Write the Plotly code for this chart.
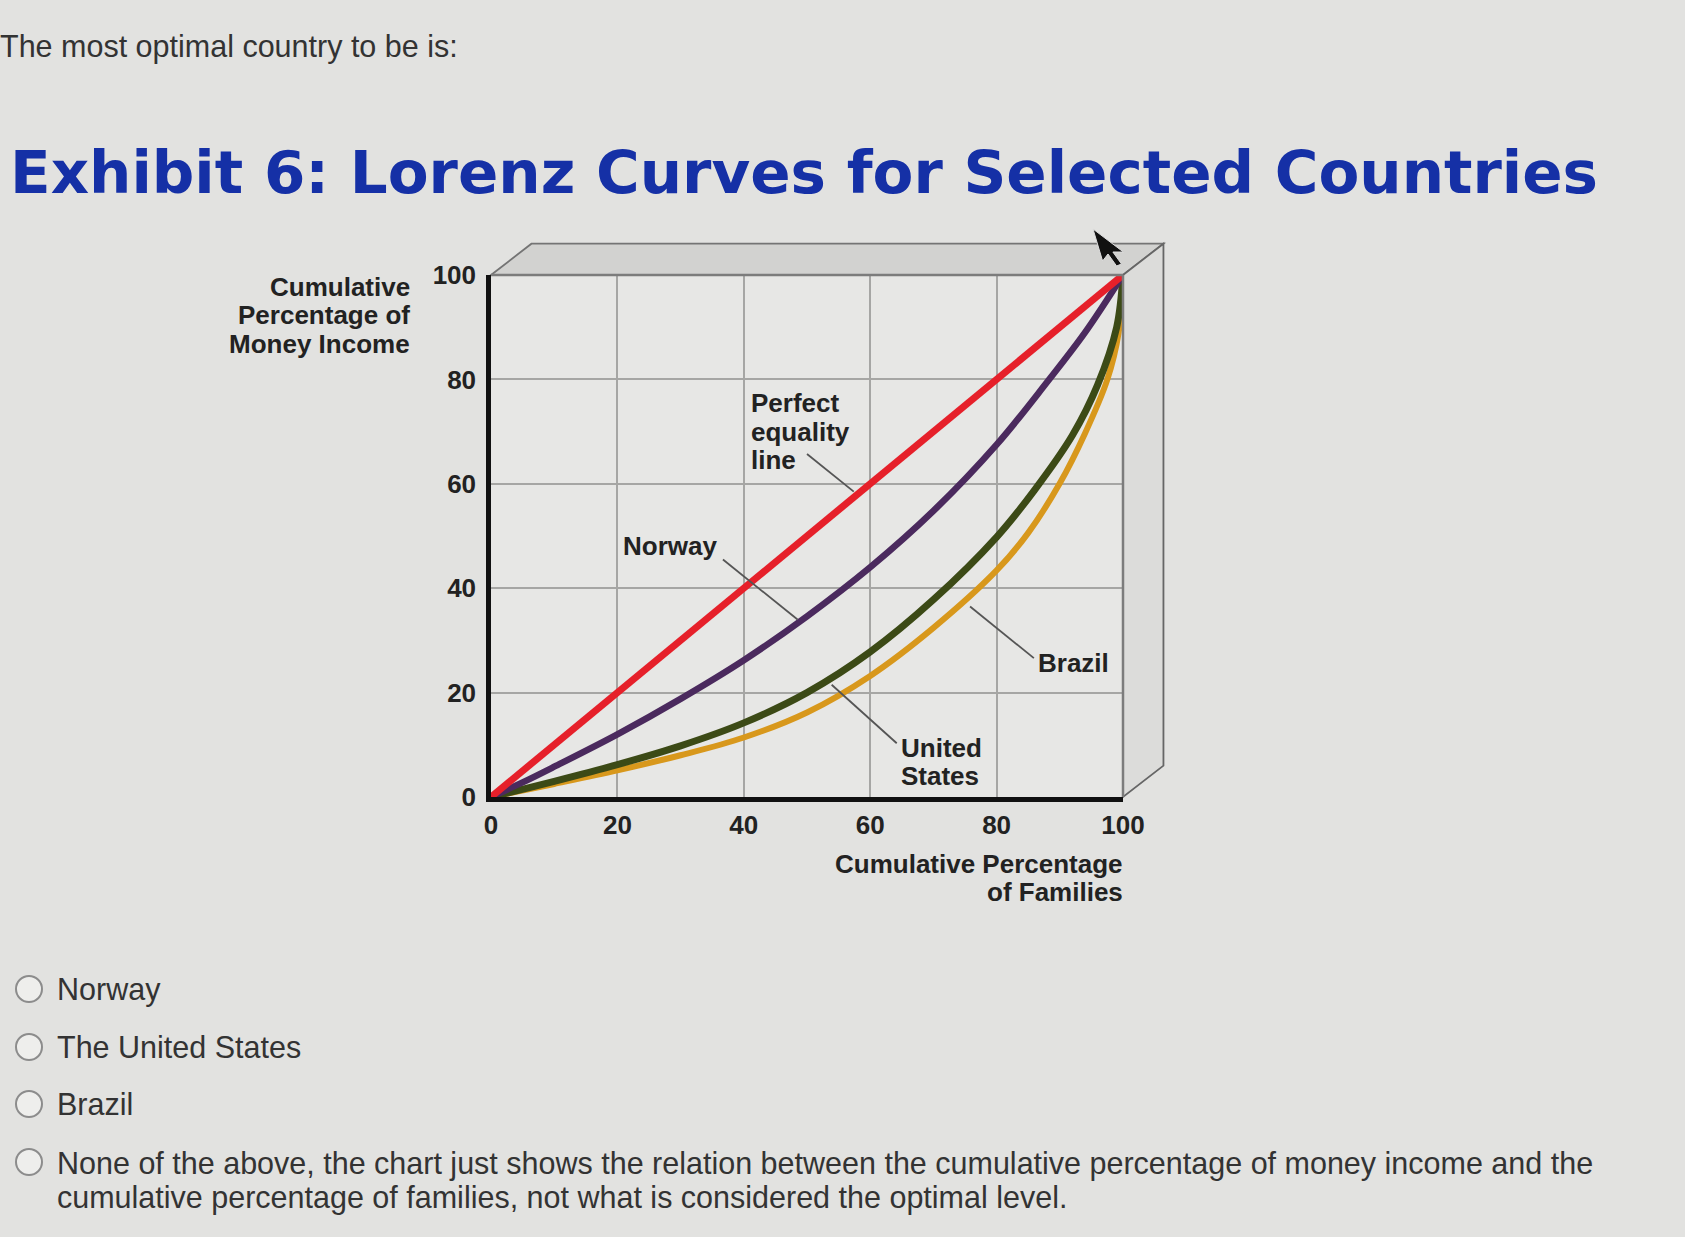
import plotly.graph_objects as go

W, H = 1685, 1237

# ---- data ----
equal_x = [0, 100]
equal_y = [0, 100]

norway_x = [0, 5, 10, 20, 30, 40, 50, 60, 70, 80, 88, 94, 100]
norway_y = [0, 2.8, 5.8, 12.0, 18.8, 26.2, 34.6, 44.0, 54.8, 67.5, 79.5, 89.0, 100]

us_x = [0, 10, 20, 30, 40, 50, 60, 70, 80, 86, 92, 96, 99, 100]
us_y = [0, 3.0, 6.2, 9.8, 14.2, 20.0, 27.8, 37.8, 49.8, 58.8, 69.3, 79.0, 90, 100]

brazil_x = [0, 10, 20, 30, 40, 50, 60, 70, 80, 85, 90, 94, 97.5, 99.3, 100]
brazil_y = [0, 2.5, 5.1, 8.0, 11.4, 16.2, 23.2, 32.4, 43.4, 50.6, 60.1, 69.7, 79.9, 88.9, 100]

tick_vals = [0, 20, 40, 60, 80, 100]

question = "The most optimal country to be is:"
title = "Exhibit 6: Lorenz Curves for Selected Countries"
y_title = ["Cumulative", "Percentage of", "Money Income"]
x_title = ["Cumulative Percentage", "of Families"]
options = ["Norway", "The United States", "Brazil"]
option4 = ["None of the above, the chart just shows the relation between the cumulative percentage of money income and the",
           "cumulative percentage of families, not what is considered the optimal level."]

# ---- helpers ----
def px(x):
    return x / W

def py(y):
    return 1 - y / H

LBL = dict(family="Liberation Sans, Arial, sans-serif", size=26, color="#222222", weight="bold")
TXT = dict(family="Liberation Sans, Arial, sans-serif", size=30.5, color="#333333")

fig = go.Figure()
fig.add_trace(go.Scatter(x=brazil_x, y=brazil_y, mode="lines", line=dict(color="#d8981c", width=6, shape="spline", smoothing=1), name="Brazil"))
fig.add_trace(go.Scatter(x=us_x, y=us_y, mode="lines", line=dict(color="#3c4a16", width=7, shape="spline", smoothing=1), name="United States"))
fig.add_trace(go.Scatter(x=norway_x, y=norway_y, mode="lines", line=dict(color="#4b2a5e", width=6.5, shape="spline", smoothing=1), name="Norway"))
fig.add_trace(go.Scatter(x=equal_x, y=equal_y, mode="lines", line=dict(color="#e6202a", width=7), name="Perfect equality line"))

dx, dy = 0.064, 0.06
shapes = [
    dict(type="path", xref="x domain", yref="y domain",
         path=f"M 0 1 L {dx} {1+dy} L {1+dx} {1+dy} L 1 1 Z",
         fillcolor="#d2d2d0", line=dict(color="#747474", width=1.8), layer="below"),
    dict(type="path", xref="x domain", yref="y domain",
         path=f"M 1 1 L {1+dx} {1+dy} L {1+dx} {dy} L 1 0 Z",
         fillcolor="#dcdcda", line=dict(color="#666666", width=1.8), layer="below"),
    dict(type="line", xref="x domain", yref="y domain", x0=0, y0=1, x1=1, y1=1,
         line=dict(color="#7c7c7c", width=2.5)),
    dict(type="line", xref="x domain", yref="y domain", x0=1, y0=0, x1=1, y1=1,
         line=dict(color="#7c7c7c", width=2.5)),
    # leader lines
    dict(type="line", xref="x", yref="y", x0=50.0, y0=65.7, x1=57.4, y1=58.5, line=dict(color="#555555", width=1.8)),
    dict(type="line", xref="x", yref="y", x0=36.7, y0=45.5, x1=48.5, y1=34.0, line=dict(color="#555555", width=1.8)),
    dict(type="line", xref="x", yref="y", x0=85.9, y0=26.6, x1=75.8, y1=36.5, line=dict(color="#555555", width=1.8)),
    dict(type="line", xref="x", yref="y", x0=64.2, y0=10.3, x1=53.9, y1=21.5, line=dict(color="#555555", width=1.8)),
]

for cy in [989, 1047, 1104, 1162]:
    r = 13
    shapes.append(dict(type="circle", xref="paper", yref="paper",
                       x0=px(29 - r), x1=px(29 + r), y0=py(cy + r), y1=py(cy - r),
                       line=dict(color="#8c8c8c", width=2), fillcolor="#eeeeec"))

# mouse cursor
cur = [(0, 0), (0, 32), (7.5, 25), (12.5, 37), (18, 35), (13, 23), (23.5, 23)]
cx0, cy0 = 1093, 229
path = "M " + " L ".join(f"{px(cx0 + a + b*0.3)} {py(cy0 + b)}" for a, b in cur) + " Z"
shapes.append(dict(type="path", xref="paper", yref="paper", path=path,
                   fillcolor="#111111", line=dict(color="#dddddd", width=1)))

def ann(text, x, y, xref="paper", yref="paper", xanchor="left", font=LBL):
    return dict(text=text, x=x, y=y, xref=xref, yref=yref, xanchor=xanchor, yanchor="middle",
                showarrow=False, font=font)

annotations = [
    ann(question, px(-2), py(47), font=TXT),
    ann(title, px(8), py(172), font=dict(family="DejaVu Sans, Verdana, sans-serif", size=59.5, color="#1530a6", weight="bold")),
]
for t, yy in zip(y_title, [287, 315, 344]):
    annotations.append(ann(t, px(412), py(yy), xanchor="right"))
for t, yy in zip(x_title, [864, 892]):
    annotations.append(ann(t, px(1125), py(yy), xanchor="right"))
for t, yy in zip(["Perfect", "equality", "line"], [75.5, 69.9, 64.6]):
    annotations.append(ann(t, 40.9, yy, xref="x", yref="y"))
annotations.append(ann("Norway", 20.6, 48.1, xref="x", yref="y"))
annotations.append(ann("Brazil", 86.3, 25.7, xref="x", yref="y"))
for t, yy in zip(["United", "States"], [9.4, 4.0]):
    annotations.append(ann(t, 64.5, yy, xref="x", yref="y"))
for cy, t in zip([989, 1047, 1104], options):
    annotations.append(ann(t, px(55), py(cy), font=TXT))
for cy, t in zip([1163, 1197], option4):
    annotations.append(ann(t, px(55), py(cy), font=TXT))

axis_common = dict(range=[0, 100], tickvals=tick_vals, showgrid=True, gridcolor="#a6a6a4", gridwidth=1.8,
                   zeroline=False, showline=True, linecolor="#111111", linewidth=4.5, ticks="",
                   tickfont=LBL, fixedrange=True, automargin=False)

fig.update_layout(
    width=W, height=H,
    margin=dict(l=0, r=0, t=0, b=0),
    paper_bgcolor="#e2e2e0",
    plot_bgcolor="#e7e7e5",
    showlegend=False,
    xaxis=dict(domain=[px(491), px(1123)], ticklabelstandoff=1, **axis_common),
    yaxis=dict(domain=[py(797), py(275)], ticklabelstandoff=5, **axis_common),
    shapes=shapes,
    annotations=annotations,
)

fig.write_html(
    "out.html",
    post_script="document.body.style.margin='0';document.body.style.padding='0';"
                "document.body.style.background='#e2e2e0';document.documentElement.style.overflow='hidden';",
)
